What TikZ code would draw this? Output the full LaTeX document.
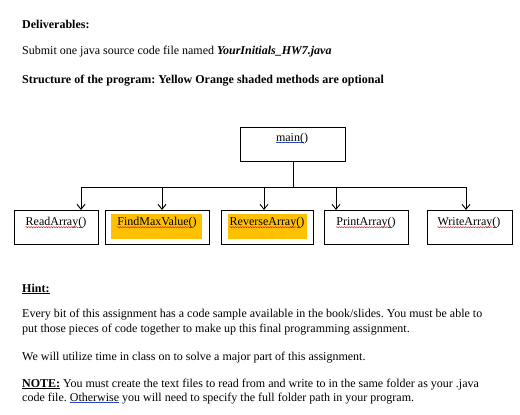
\documentclass[tikz,border=0pt]{standalone}
\usepackage{fontspec}
\setmainfont{Liberation Serif}
\usetikzlibrary{arrows.meta,decorations.pathmorphing}
\definecolor{gold}{RGB}{255,192,0}
\definecolor{spellred}{RGB}{225,30,30}
\definecolor{gramblue}{RGB}{40,70,200}
\newcommand\blueul[1]{\setbox0\hbox{#1}\rlap{\textcolor{gramblue}{\rule[-2.2pt]{\wd0}{0.9pt}}}#1}
\frenchspacing
\begin{document}
\begin{tikzpicture}[x=1pt,y=-1pt,
  txt/.style={anchor=base west,inner sep=0pt,font=\fontsize{12}{14}\selectfont},
  lbl/.style={anchor=base,inner sep=0pt,font=\fontsize{12}{14}\selectfont},
  box/.style={draw,line width=1pt,anchor=north west,inner sep=0pt,minimum height=34pt},
  hilite/.style={fill=gold,anchor=north west,inner sep=0pt,minimum height=25pt},
  conn/.style={line width=1pt},
  arr/.style={line width=1pt,-{Straight Barb[length=5pt,width=8pt,line width=0.9pt]}},
  squig/.style={spellred,line width=0.5pt,decorate,decoration={snake,amplitude=0.6pt,segment length=2.5pt}},
  blueline/.style={gramblue,line width=0.9pt}
]
\useasboundingbox (0,0) rectangle (520,415);

% header text
\node[txt] (t1) at (22,28) {\textbf{Deliverables:}};
\node[txt] (t2) at (22,54) {Submit one java source code file named \textbf{\textit{YourInitials\_HW7.java}}};
\node[txt] (t3) at (22,83) {\textbf{Structure of the program: Yellow Orange shaded methods are optional}};

% main box
\node[box,minimum width=105pt] (main) at (240,127) {};
\node[lbl] (mainl) at (292,141) {\blueul{main(})};

% method boxes
\node[box,minimum width=84pt] (read) at (14,210) {};
\node[box,minimum width=104pt] (find) at (105,210) {};
\node[hilite,minimum width=91pt] (findbg) at (111,214) {};
\node[box,minimum width=92pt] (rev) at (221,210) {};
\node[hilite,minimum width=79pt] (revbg) at (228,214) {};
\node[box,minimum width=84pt] (print) at (324,210) {};
\node[box,minimum width=85pt] (write) at (427,210) {};

\node[lbl] (readl) at (56,225) {ReadArray()};
\node[lbl] (findl) at (157,225) {FindMaxValue()};
\node[lbl] (revl) at (267,225) {ReverseArray()};
\node[lbl] (printl) at (366,225) {PrintArray()};
\node[lbl] (writel) at (469,225) {WriteArray()};

\foreach \n in {readl,findl,revl,printl,writel}{
  \draw[squig] ([yshift=-2.2pt]\n.base west) -- ([xshift=-8pt,yshift=-2.2pt]\n.base east);
  \draw[blueline,line width=1.2pt] ([xshift=-8pt,yshift=-2.2pt]\n.base east) -- ([xshift=-4pt,yshift=-2.2pt]\n.base east);
}

% connectors
\coordinate (busL) at (81,187);
\coordinate (busR) at (466,187);
\coordinate (aRead) at (81,187);
\coordinate (aFind) at (162,187);
\coordinate (aRev) at (264,187);
\coordinate (aPrint) at (336,187);
\coordinate (aWrite) at (466,187);
\draw[conn] (main.south) -- (main.south |- busL);
\draw[conn] (busL) -- (busR);
\draw[arr] (aRead) -- (aRead |- read.north);
\draw[arr] (aFind) -- (aFind |- find.north);
\draw[arr] (aRev) -- (aRev |- rev.north);
\draw[arr] (aPrint) -- (aPrint |- print.north);
\draw[arr] (aWrite) -- (aWrite |- write.north);

% hint section
\node[txt] (h1) at (22,292) {\textbf{\underline{Hint:}}};
\node[txt] (h2) at (22,317) {Every bit of this assignment has a code sample available in the book/slides. You must be able to};
\node[txt] (h3) at (22,332) {put those pieces of code together to make up this final programming assignment.};
\node[txt] (h4) at (22,360) {We will utilize time in class on to solve a major part of this assignment.};
\node[txt] (h5) at (22,387) {\textbf{\underline{NOTE:}} You must create the text files to read from and write to in the same folder as your .java};
\node[txt] (h6) at (22,401) {code file. \blueul{Otherwise} you will need to specify the full folder path in your program.};
\end{tikzpicture}
\end{document}
